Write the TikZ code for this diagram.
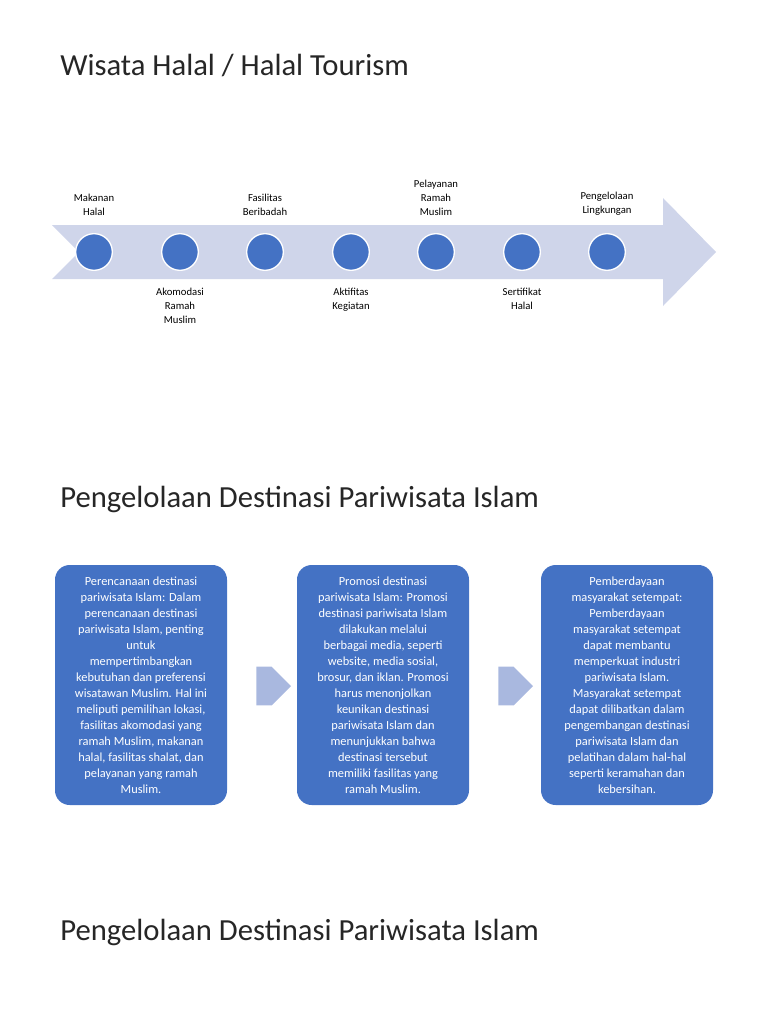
\documentclass[tikz,border=0pt]{standalone}
\usepackage{fontspec}
\setmainfont{Carlito}
\usetikzlibrary{shapes.arrows}
\definecolor{band}{HTML}{CFD5EA}
\definecolor{dot}{HTML}{4472C4}
\definecolor{arr}{HTML}{A9B8DF}
\begin{document}
\begin{tikzpicture}[x=0.75pt,y=-0.75pt,
  title/.style={anchor=base west,font=\fontsize{23}{28}\selectfont,text=black!85,inner sep=0},
  dotn/.style={circle,fill=dot,draw=white,line width=1pt,minimum size=27.5pt,inner sep=0},
  lab/.style={align=center,font=\fontsize{8}{10.5}\selectfont,inner sep=0},
  box/.style={rounded corners=11pt,fill=dot,text=white,align=center,font=\fontsize{9.3}{12}\selectfont,minimum width=129pt,minimum height=180pt,inner sep=2pt},
  barrow/.style={single arrow,fill=arr,minimum height=26pt,minimum width=29pt,single arrow head extend=0pt,single arrow tip angle=90,inner sep=0,shape border rotate=0}]
\useasboundingbox (0,0) rectangle (768,1024);
\node[title] (t1) at (60,75) {Wisata Halal / Halal Tourism};
\node[title] (t2) at (60,507) {Pengelolaan Destinasi Pariwisata Islam};
\node[title] (t3) at (60,940) {Pengelolaan Destinasi Pariwisata Islam};
\fill[band] (52,225) -- (663,225) -- (663,198) -- (716,252) -- (663,306) -- (663,279) -- (52,279) -- (79,252) -- cycle;
\foreach \i/\x in {1/94,2/180,3/265,4/351,5/436,6/522,7/607} \node[dotn] (d\i) at (\x,252) {};
\node[lab,anchor=south] (l1) at (94,216) {Makanan\\Halal};
\node[lab,anchor=south] (l3) at (265,216) {Fasilitas\\Beribadah};
\node[lab,anchor=south] (l5) at (436,216) {Pelayanan\\Ramah\\Muslim};
\node[lab,anchor=south] (l7) at (607,216) {Pengelolaan\\Lingkungan};
\node[lab,anchor=north] (l2) at (180,288) {Akomodasi\\Ramah\\Muslim};
\node[lab,anchor=north] (l4) at (351,288) {Aktifitas\\Kegiatan};
\node[lab,anchor=north] (l6) at (522,288) {Sertifikat\\Halal};
\node[box] (b1) at (141,685) {Perencanaan destinasi\\pariwisata Islam: Dalam\\perencanaan destinasi\\pariwisata Islam, penting\\untuk\\mempertimbangkan\\kebutuhan dan preferensi\\wisatawan Muslim. Hal ini\\meliputi pemilihan lokasi,\\fasilitas akomodasi yang\\ramah Muslim, makanan\\halal, fasilitas shalat, dan\\pelayanan yang ramah\\Muslim.};
\node[box] (b2) at (383,685) {Promosi destinasi\\pariwisata Islam: Promosi\\destinasi pariwisata Islam\\dilakukan melalui\\berbagai media, seperti\\website, media sosial,\\brosur, dan iklan. Promosi\\harus menonjolkan\\keunikan destinasi\\pariwisata Islam dan\\menunjukkan bahwa\\destinasi tersebut\\memiliki fasilitas yang\\ramah Muslim.};
\node[box] (b3) at (627,685) {Pemberdayaan\\masyarakat setempat:\\Pemberdayaan\\masyarakat setempat\\dapat membantu\\memperkuat industri\\pariwisata Islam.\\Masyarakat setempat\\dapat dilibatkan dalam\\pengembangan destinasi\\pariwisata Islam dan\\pelatihan dalam hal-hal\\seperti keramahan dan\\kebersihan.};
\node[barrow] (a1) at (264,686) {};
\node[barrow] (a2) at (506,686) {};
\end{tikzpicture}
\end{document}
